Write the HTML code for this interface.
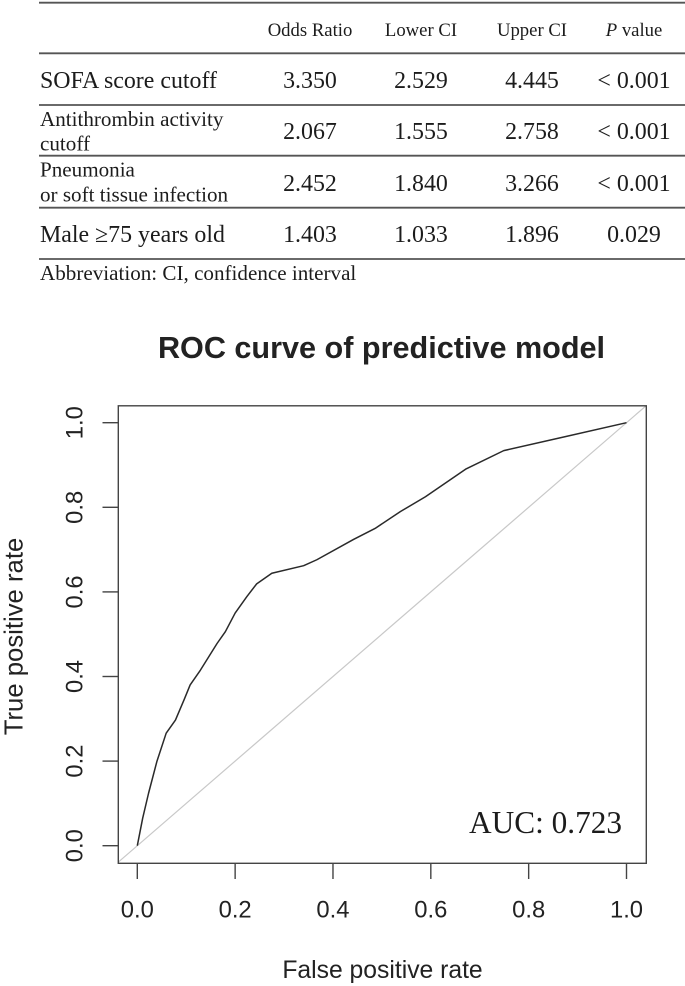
<!DOCTYPE html>
<html lang="en">
<head>
<meta charset="utf-8">
<title>Logistic regression table and ROC curve</title>
<style>
html,body{margin:0;padding:0;background:#fff;width:685px;height:986px;overflow:hidden}
svg{display:block;position:absolute;left:0;top:0}
.s{font-family:"Liberation Serif",serif;fill:#1c1c1c}
.a{font-family:"Liberation Sans",sans-serif;fill:#222}
.rule{stroke:#555;stroke-width:1.8}
.mid{text-anchor:middle}
</style>
</head>
<body>
<svg id="fig" width="685" height="986" viewBox="0 0 685 986" xmlns="http://www.w3.org/2000/svg">
  <g>
    <line class="rule" x1="39" x2="685" y1="2.7" y2="2.7"/>
    <line class="rule" x1="39" x2="685" y1="53.3" y2="53.3"/>
    <line class="rule" x1="39" x2="685" y1="105" y2="105"/>
    <line class="rule" x1="39" x2="685" y1="155.7" y2="155.7"/>
    <line class="rule" x1="39" x2="685" y1="207.7" y2="207.7"/>
    <line class="rule" x1="39" x2="685" y1="259" y2="259"/>

    <g font-size="18.7">
      <text class="s mid" x="310" y="36">Odds Ratio</text>
      <text class="s mid" x="421" y="36">Lower CI</text>
      <text class="s mid" x="532" y="36">Upper CI</text>
      <text class="s mid" x="634" y="36"><tspan font-style="italic">P</tspan> value</text>
    </g>

    <g font-size="23.9">
      <text class="s" x="40" y="88">SOFA score cutoff</text>
      <text class="s mid" x="310" y="88">3.350</text>
      <text class="s mid" x="421" y="88">2.529</text>
      <text class="s mid" x="532" y="88">4.445</text>
      <text class="s mid" x="634" y="88">&lt; 0.001</text>

      <text class="s mid" x="310" y="139">2.067</text>
      <text class="s mid" x="421" y="139">1.555</text>
      <text class="s mid" x="532" y="139">2.758</text>
      <text class="s mid" x="634" y="139">&lt; 0.001</text>

      <text class="s mid" x="310" y="191">2.452</text>
      <text class="s mid" x="421" y="191">1.840</text>
      <text class="s mid" x="532" y="191">3.266</text>
      <text class="s mid" x="634" y="191">&lt; 0.001</text>

      <text class="s" x="40" y="242">Male ≥75 years old</text>
      <text class="s mid" x="310" y="242">1.403</text>
      <text class="s mid" x="421" y="242">1.033</text>
      <text class="s mid" x="532" y="242">1.896</text>
      <text class="s mid" x="634" y="242">0.029</text>
    </g>

    <g font-size="21.1">
      <text class="s" x="40" y="126">Antithrombin activity</text>
      <text class="s" x="40" y="150.5">cutoff</text>
      <text class="s" x="40" y="176.7">Pneumonia</text>
      <text class="s" x="40" y="201.7">or soft tissue infection</text>
      <text class="s" x="40" y="280">Abbreviation: CI, confidence interval</text>
    </g>
  </g>

  <g id="chart">
    <text class="a mid" x="381.5" y="358" font-size="30.6" font-weight="bold" fill="#111">ROC curve of predictive model</text>
    <text class="a mid" x="382.5" y="978" font-size="24.7">False positive rate</text>
    <text class="a mid" transform="translate(22.7 636.5) rotate(-90)" font-size="25.7">True positive rate</text>
    <text class="s" x="469" y="833" font-size="31.3">AUC: 0.723</text>
  </g>
</svg>
<script>
var xTicks = [0, 0.2, 0.4, 0.6, 0.8, 1];
var yTicks = [0, 0.2, 0.4, 0.6, 0.8, 1];
var tickLabels = ['0.0', '0.2', '0.4', '0.6', '0.8', '1.0'];
var fprValues = [0, 0.011, 0.023, 0.04, 0.059, 0.078, 0.096, 0.108, 0.129, 0.163, 0.18, 0.2, 0.224, 0.244, 0.275, 0.34, 0.367, 0.442, 0.486, 0.538, 0.589, 0.671, 0.749, 0.875, 1];
var tprValues = [0, 0.065, 0.124, 0.199, 0.266, 0.297, 0.346, 0.38, 0.415, 0.478, 0.506, 0.55, 0.589, 0.619, 0.644, 0.662, 0.676, 0.724, 0.75, 0.79, 0.825, 0.89, 0.934, 0.967, 1];
var chanceLine = [-0.039, 1.04];

var NS = 'http://www.w3.org/2000/svg';
var chart = document.getElementById('chart');
function xScale(v) { return 137.3 + v * 489.2; }
function yScale(v) { return 845.7 - v * 423; }
function make(tag, attrs) {
  var el = document.createElementNS(NS, tag);
  for (var k in attrs) { el.setAttribute(k, attrs[k]); }
  chart.appendChild(el);
  return el;
}

var diag = make('line', {
  x1: xScale(chanceLine[0]), y1: yScale(chanceLine[0]),
  x2: xScale(chanceLine[1]), y2: yScale(chanceLine[1]),
  stroke: '#c8c8c8', 'stroke-width': 1.2
});



var pts = fprValues.map(function (f, i) { return xScale(f) + ',' + yScale(tprValues[i]); }).join(' ');
var curve = make('polyline', {
  points: pts, fill: 'none', stroke: '#2a2a2a', 'stroke-width': 1.5, 'stroke-linejoin': 'round'
});



var box = make('rect', {
  x: 118.3, y: 405.8, width: 528, height: 457.5, fill: 'none', stroke: '#444', 'stroke-width': 1.4
});



xTicks.forEach(function (v, i) {
  var t = make('line', { x1: xScale(v), x2: xScale(v), y1: 863.3, y2: 879, stroke: '#444', 'stroke-width': 1.4 });
  
  
  var l = make('text', { x: xScale(v), y: 917.7, 'text-anchor': 'middle', 'font-size': 23.8, 'class': 'a' });
  l.textContent = tickLabels[i];
  
  
});

yTicks.forEach(function (v, i) {
  var t = make('line', { x1: 102.5, x2: 118.3, y1: yScale(v), y2: yScale(v), stroke: '#444', 'stroke-width': 1.4 });
  
  
  var l = make('text', {
    transform: 'translate(82.7 ' + yScale(v) + ') rotate(-90)',
    'text-anchor': 'middle', 'font-size': 23.8, 'class': 'a'
  });
  l.textContent = tickLabels[i];
  
  
});
</script>
</body>
</html>
